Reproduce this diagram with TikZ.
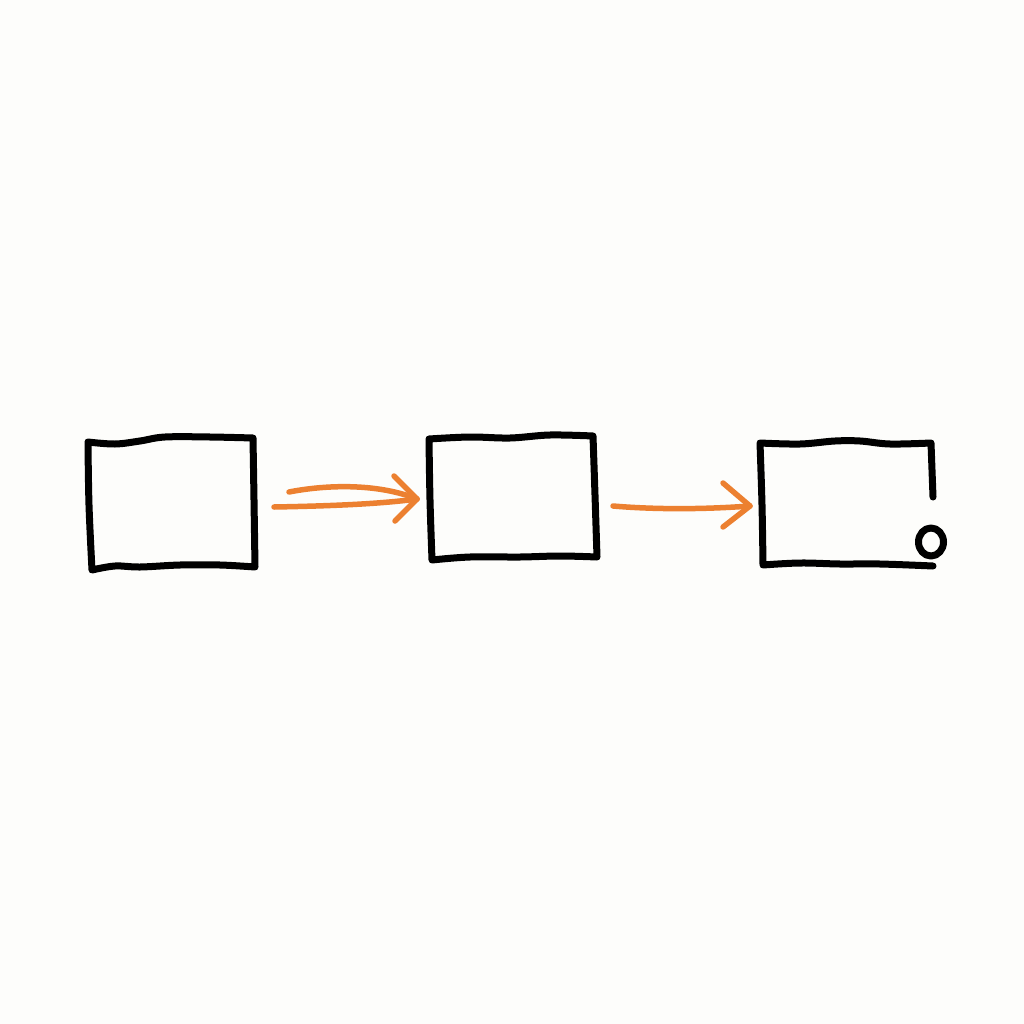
\documentclass[tikz,border=0pt]{standalone}
\usepackage{tikz}
\definecolor{inkorange}{RGB}{236,128,48}
\definecolor{paper}{RGB}{253,253,251}
\tikzset{
  inkbox/.style={draw=black, line width=7pt, line cap=round, line join=round},
  inkarrow/.style={draw=inkorange, line width=5.5pt, line cap=round, line join=round},
  holder/.style={draw=none, inner sep=0pt, minimum width=165pt, minimum height=125pt}
}
\begin{document}
\begin{tikzpicture}[x=1pt, y=-1pt]
\fill[paper] (0,0) rectangle (1024,1024);
\useasboundingbox (0,0) rectangle (1024,1024);
% invisible holders
\node[holder] (b1) at (172,504) {};
\node[holder] (b2) at (513,498) {};
\node[holder] (b3) at (847,504) {};
% box 1
\draw[inkbox] plot[smooth, tension=0.6] coordinates {(88,442) (115,444) (140,441) (165,437) (210,437) (253,438)}
  -- plot[smooth, tension=0.6] coordinates {(253,438) (254,500) (255,567)}
  -- plot[smooth, tension=0.6] coordinates {(255,567) (220,565) (180,565) (140,567) (115,566) (92,570)}
  -- plot[smooth, tension=0.6] coordinates {(92,570) (89,505) (88,442)};
% box 2
\draw[inkbox] plot[smooth, tension=0.6] coordinates {(429,439) (470,437) (510,438) (550,435) (593,436)}
  -- plot[smooth, tension=0.6] coordinates {(593,436) (595,495) (597,557)}
  -- plot[smooth, tension=0.6] coordinates {(597,557) (560,556) (520,557) (470,557) (432,560)}
  -- plot[smooth, tension=0.6] coordinates {(432,560) (430,500) (429,439)};
% box 3
\draw[inkbox] plot[smooth, tension=0.6] coordinates {(933,497) (932,470) (931,443)}
  -- plot[smooth, tension=0.6] coordinates {(931,443) (890,444) (860,441) (835,441) (800,444) (760,443)}
  -- plot[smooth, tension=0.6] coordinates {(760,443) (762,505) (763,565)}
  -- plot[smooth, tension=0.6] coordinates {(763,565) (800,563) (840,564) (880,564) (933,566)};
\draw[inkbox] (931,542) ellipse [x radius=12.5, y radius=14];
% arrow 1
\coordinate (a1s) at (274,507);
\coordinate (a1u) at (289,492);
\coordinate (a1t) at (417,499);
\draw[inkarrow] (a1s) .. controls (330,506) and (380,504) .. (a1t);
\draw[inkarrow] (a1u) .. controls (330,484) and (380,484) .. (a1t);
\draw[inkarrow] (394,476) -- (a1t) -- (395,521);
% arrow 2
\coordinate (a2s) at (613,506);
\coordinate (a2t) at (750,506);
\draw[inkarrow] (a2s) .. controls (660,510) and (710,509) .. (a2t);
\draw[inkarrow] (723,483) -- (a2t) -- (723,527);
\end{tikzpicture}
\end{document}
